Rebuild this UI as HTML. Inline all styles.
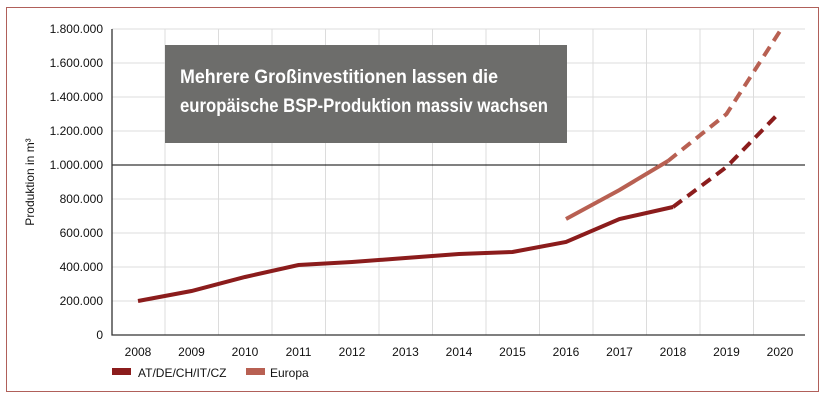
<!DOCTYPE html>
<html><head><meta charset="utf-8"><style>
body{margin:0;background:#fff;}
svg{display:block;font-family:"Liberation Sans",sans-serif;}
</style></head><body>
<svg width="830" height="400" viewBox="0 0 830 400">
<rect x="6.5" y="7.5" width="812" height="384" fill="#fff" stroke="#b0605a" stroke-width="1"/>
<g stroke="#dcdcdc" stroke-width="1">
<line x1="112" y1="29" x2="805" y2="29"/><line x1="112" y1="63" x2="805" y2="63"/><line x1="112" y1="97" x2="805" y2="97"/><line x1="112" y1="131" x2="805" y2="131"/><line x1="112" y1="199" x2="805" y2="199"/><line x1="112" y1="233" x2="805" y2="233"/><line x1="112" y1="267" x2="805" y2="267"/><line x1="112" y1="301" x2="805" y2="301"/>
<line x1="165" y1="29" x2="165" y2="335"/><line x1="218.5" y1="29" x2="218.5" y2="335"/><line x1="272" y1="29" x2="272" y2="335"/><line x1="325.5" y1="29" x2="325.5" y2="335"/><line x1="379" y1="29" x2="379" y2="335"/><line x1="432.5" y1="29" x2="432.5" y2="335"/><line x1="486" y1="29" x2="486" y2="335"/><line x1="539.5" y1="29" x2="539.5" y2="335"/><line x1="593" y1="29" x2="593" y2="335"/><line x1="646.5" y1="29" x2="646.5" y2="335"/><line x1="700" y1="29" x2="700" y2="335"/><line x1="753.5" y1="29" x2="753.5" y2="335"/>
</g>
<line x1="112" y1="165" x2="805" y2="165" stroke="#000" stroke-width="1"/>
<polyline points="112,29 112,335 805,335" fill="none" stroke="#333" stroke-width="1.3"/>
<g font-size="12" fill="#111" text-anchor="end">
<text x="103" y="33">1.800.000</text><text x="103" y="67">1.600.000</text><text x="103" y="101">1.400.000</text><text x="103" y="135">1.200.000</text><text x="103" y="169">1.000.000</text><text x="103" y="203">800.000</text><text x="103" y="237">600.000</text><text x="103" y="271">400.000</text><text x="103" y="305">200.000</text><text x="103" y="339">0</text>
</g>
<g font-size="12" fill="#111" text-anchor="middle">
<text x="138" y="356">2008</text><text x="191.5" y="356">2009</text><text x="245" y="356">2010</text><text x="298.5" y="356">2011</text><text x="352" y="356">2012</text><text x="405.5" y="356">2013</text><text x="459" y="356">2014</text><text x="512.5" y="356">2015</text><text x="566" y="356">2016</text><text x="619.5" y="356">2017</text><text x="673" y="356">2018</text><text x="726.5" y="356">2019</text><text x="780" y="356">2020</text>
</g>
<text x="34" y="182" font-size="12" fill="#111" text-anchor="middle" transform="rotate(-90 34 182)">Produktion in m³</text>
<rect x="165" y="45" width="402" height="98" fill="#6d6d6b"/>
<g font-size="19" font-weight="bold" fill="#fff">
<text x="180" y="83" textLength="318" lengthAdjust="spacingAndGlyphs">Mehrere Großinvestitionen lassen die</text>
<text x="180" y="112" textLength="368" lengthAdjust="spacingAndGlyphs">europäische BSP-Produktion massiv wachsen</text>
</g>
<g fill="none" stroke-width="4">
<polyline points="138,301 191.5,291 245,277 298.5,265 352,262 405.5,258 459,254 512.5,252 566,242 619.5,219 673,207" stroke="#8b1c1c"/>
<polyline points="673,207 726.5,167 780,112" stroke="#8b1c1c" stroke-dasharray="11,7"/>
<polyline points="566,219 619.5,190 668,161" stroke="#b86052"/>
<polyline points="668,161 726.5,114 780,31" stroke="#b86052" stroke-dasharray="11,7"/>
</g>
<rect x="112" y="368" width="19" height="7" fill="#8b1c1c"/>
<text x="138" y="377" font-size="12" fill="#111">AT/DE/CH/IT/CZ</text>
<rect x="246" y="368" width="19" height="7" fill="#b86052"/>
<text x="270" y="377" font-size="12" fill="#111">Europa</text>
</svg>
</body></html>
